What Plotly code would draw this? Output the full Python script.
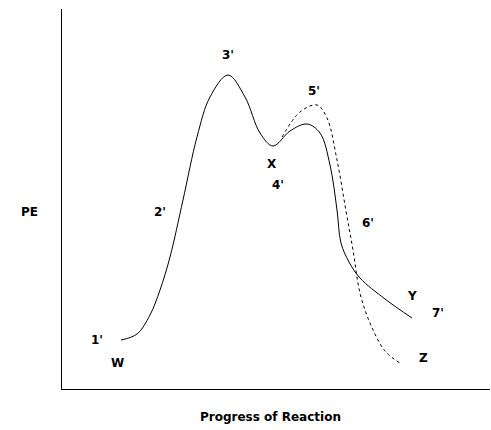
import plotly.graph_objects as go

# Reaction coordinate (progress) and potential energy values, in chart units
solid_x = [59, 75, 88, 98, 108, 121, 135, 148, 166, 183, 198, 211, 228, 245, 258, 268, 275, 279,
           287, 298, 323, 350]
solid_y = [49, 55, 74, 99, 132, 189, 252, 292, 314, 292, 256, 243, 258, 265, 256, 224, 179, 146,
           127, 111, 90, 71]

dash_x = [220, 238, 255, 265, 275, 284, 291, 298, 308, 323, 338]
dash_y = [252, 277, 284, 271, 229, 178, 139, 96, 66, 38, 26]

label_text = ["1'", "W", "2'", "3'", "X", "4'", "5'", "6'", "Y", "7'", "Z"]
label_x = [35, 55, 98, 166, 210, 216, 252, 306, 350, 376, 361]
label_y = [49, 26, 177, 334, 225, 204, 298, 166, 93, 76, 31]

x_range = [0, 428]
y_range = [0, 380]

font = dict(family="DejaVu Sans, Arial, sans-serif", size=12, color="black")

fig = go.Figure()
fig.add_trace(go.Scatter(x=solid_x, y=solid_y, mode="lines",
                         line=dict(color="black", width=1, shape="spline", smoothing=1.0),
                         hoverinfo="skip"))
fig.add_trace(go.Scatter(x=dash_x, y=dash_y, mode="lines",
                         line=dict(color="black", width=1, dash="3px,3px", shape="spline",
                                   smoothing=1.0),
                         hoverinfo="skip"))

for t, x, y in zip(label_text, label_x, label_y):
    fig.add_annotation(x=x, y=y, text="<b>%s</b>" % t, showarrow=False,
                       xanchor="center", yanchor="middle", font=font)

fig.add_annotation(x=-0.075, y=0.465, xref="paper", yref="paper", text="<b>PE</b>",
                   showarrow=False, xanchor="center", yanchor="middle", font=font)
fig.add_annotation(x=0.486, y=-0.074, xref="paper", yref="paper",
                   text="<b>Progress of Reaction</b>",
                   showarrow=False, xanchor="center", yanchor="middle", font=font)

fig.update_layout(
    width=491, height=430,
    margin=dict(l=62, r=1, t=9, b=41),
    paper_bgcolor="white", plot_bgcolor="white",
    showlegend=False,
    xaxis=dict(range=x_range, showgrid=False, zeroline=False, showticklabels=False,
               ticks="", showline=True, linecolor="black", linewidth=1, fixedrange=True),
    yaxis=dict(range=y_range, showgrid=False, zeroline=False, showticklabels=False,
               ticks="", showline=True, linecolor="black", linewidth=1, fixedrange=True),
)

fig.write_html("out.html", config={"displayModeBar": False})
